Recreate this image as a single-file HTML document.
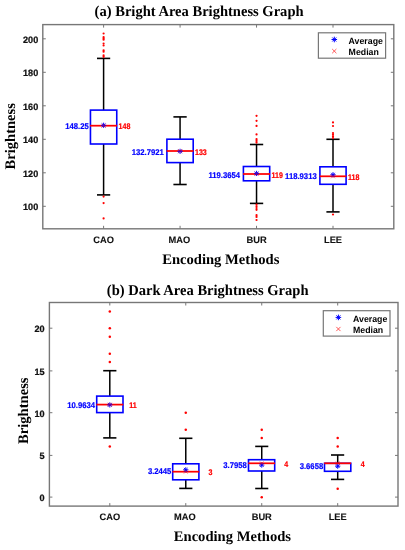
<!DOCTYPE html>
<html><head><meta charset="utf-8"><title>Brightness Graphs</title>
<style>html,body{margin:0;padding:0;background:#fff;overflow:hidden;}svg{display:block;}</style></head><body>
<svg width="405" height="550" viewBox="0 0 405 550" text-rendering="geometricPrecision">
<rect width="405" height="550" fill="#fff"/>
<text transform="translate(94.6,15.9) scale(0.99,1.02)" font-family='"Liberation Serif", "Times New Roman", serif' font-size="14.7" font-weight="bold" fill="#000" text-anchor="start">(a) Bright Area Brightness Graph</text>
<line x1="103.6" y1="58.4" x2="103.6" y2="110.1" stroke="#000" stroke-width="1.5"/>
<line x1="103.6" y1="144" x2="103.6" y2="194.9" stroke="#000" stroke-width="1.5"/>
<line x1="97" y1="58.4" x2="110.2" y2="58.4" stroke="#000" stroke-width="1.6"/>
<line x1="97" y1="194.9" x2="110.2" y2="194.9" stroke="#000" stroke-width="1.6"/>
<circle cx="103.6" cy="33.5" r="1.1" fill="#ff0000"/>
<circle cx="103.6" cy="37.2" r="1.1" fill="#ff0000"/>
<circle cx="103.6" cy="38.5" r="1.1" fill="#ff0000"/>
<circle cx="103.6" cy="39.7" r="1.1" fill="#ff0000"/>
<circle cx="103.6" cy="43.6" r="1.1" fill="#ff0000"/>
<circle cx="103.6" cy="45.5" r="1.1" fill="#ff0000"/>
<circle cx="103.6" cy="50.3" r="1.1" fill="#ff0000"/>
<circle cx="103.6" cy="51.7" r="1.1" fill="#ff0000"/>
<circle cx="103.6" cy="55.4" r="1.1" fill="#ff0000"/>
<circle cx="103.6" cy="56.8" r="1.1" fill="#ff0000"/>
<circle cx="103.6" cy="196.6" r="1.1" fill="#ff0000"/>
<circle cx="103.6" cy="203.1" r="1.1" fill="#ff0000"/>
<circle cx="103.6" cy="218.4" r="1.1" fill="#ff0000"/>
<rect x="90.45" y="110.1" width="26.3" height="33.9" fill="none" stroke="#0000ff" stroke-width="1.6"/>
<line x1="90.15" y1="125.7" x2="117.05" y2="125.7" stroke="#ff0000" stroke-width="1.75"/>
<line x1="101" y1="125.3" x2="106.2" y2="125.3" stroke="#0000ff" stroke-width="0.95"/>
<line x1="103.6" y1="122.7" x2="103.6" y2="127.9" stroke="#0000ff" stroke-width="0.95"/>
<line x1="101.76" y1="123.46" x2="105.44" y2="127.14" stroke="#0000ff" stroke-width="0.95"/>
<line x1="101.76" y1="127.14" x2="105.44" y2="123.46" stroke="#0000ff" stroke-width="0.95"/>
<line x1="101.6" y1="123.7" x2="105.6" y2="127.7" stroke="#ff0000" stroke-width="0.8" stroke-opacity="0.55"/>
<line x1="101.6" y1="127.7" x2="105.6" y2="123.7" stroke="#ff0000" stroke-width="0.8" stroke-opacity="0.55"/>
<text transform="translate(88.7,129.4) scale(1.0,1.08)" font-family='"Liberation Sans", Arial, sans-serif' font-size="7.7" font-weight="bold" fill="#0000ff" text-anchor="end" stroke="#0000ff" stroke-width="0.2">148.25</text>
<text transform="translate(118.6,129.4) scale(0.97,1.12)" font-family='"Liberation Sans", Arial, sans-serif' font-size="7.3" font-weight="bold" fill="#ff0000" text-anchor="start" stroke="#ff0000" stroke-width="0.2">148</text>
<line x1="180.07" y1="116.9" x2="180.07" y2="139.2" stroke="#000" stroke-width="1.5"/>
<line x1="180.07" y1="162.6" x2="180.07" y2="184.5" stroke="#000" stroke-width="1.5"/>
<line x1="173.4" y1="116.9" x2="186.7" y2="116.9" stroke="#000" stroke-width="1.6"/>
<line x1="173.4" y1="184.5" x2="186.7" y2="184.5" stroke="#000" stroke-width="1.6"/>
<rect x="166.9" y="139.2" width="26.3" height="23.4" fill="none" stroke="#0000ff" stroke-width="1.6"/>
<line x1="166.6" y1="151" x2="193.5" y2="151" stroke="#ff0000" stroke-width="1.75"/>
<line x1="177.47" y1="151.35" x2="182.67" y2="151.35" stroke="#0000ff" stroke-width="0.95"/>
<line x1="180.07" y1="148.75" x2="180.07" y2="153.95" stroke="#0000ff" stroke-width="0.95"/>
<line x1="178.23" y1="149.51" x2="181.91" y2="153.19" stroke="#0000ff" stroke-width="0.95"/>
<line x1="178.23" y1="153.19" x2="181.91" y2="149.51" stroke="#0000ff" stroke-width="0.95"/>
<line x1="178.07" y1="149" x2="182.07" y2="153" stroke="#ff0000" stroke-width="0.8" stroke-opacity="0.55"/>
<line x1="178.07" y1="153" x2="182.07" y2="149" stroke="#ff0000" stroke-width="0.8" stroke-opacity="0.55"/>
<text transform="translate(163.8,154.9) scale(1.0,1.08)" font-family='"Liberation Sans", Arial, sans-serif' font-size="7.7" font-weight="bold" fill="#0000ff" text-anchor="end" stroke="#0000ff" stroke-width="0.2">132.7921</text>
<text transform="translate(195,154.9) scale(0.97,1.12)" font-family='"Liberation Sans", Arial, sans-serif' font-size="7.3" font-weight="bold" fill="#ff0000" text-anchor="start" stroke="#ff0000" stroke-width="0.2">133</text>
<line x1="256.54" y1="144.5" x2="256.54" y2="166.5" stroke="#000" stroke-width="1.5"/>
<line x1="256.54" y1="180.8" x2="256.54" y2="203.4" stroke="#000" stroke-width="1.5"/>
<line x1="249.9" y1="144.5" x2="263.2" y2="144.5" stroke="#000" stroke-width="1.6"/>
<line x1="249.9" y1="203.4" x2="263.2" y2="203.4" stroke="#000" stroke-width="1.6"/>
<circle cx="256.54" cy="115.8" r="1.1" fill="#ff0000"/>
<circle cx="256.54" cy="120.8" r="1.1" fill="#ff0000"/>
<circle cx="256.54" cy="125.9" r="1.1" fill="#ff0000"/>
<circle cx="256.54" cy="134.4" r="1.1" fill="#ff0000"/>
<circle cx="256.54" cy="139.2" r="1.1" fill="#ff0000"/>
<circle cx="256.54" cy="140.9" r="1.1" fill="#ff0000"/>
<circle cx="256.54" cy="142.6" r="1.1" fill="#ff0000"/>
<circle cx="256.54" cy="204.6" r="1.1" fill="#ff0000"/>
<circle cx="256.54" cy="206.3" r="1.1" fill="#ff0000"/>
<circle cx="256.54" cy="208" r="1.1" fill="#ff0000"/>
<circle cx="256.54" cy="209.8" r="1.1" fill="#ff0000"/>
<circle cx="256.54" cy="215.2" r="1.1" fill="#ff0000"/>
<circle cx="256.54" cy="216.9" r="1.1" fill="#ff0000"/>
<circle cx="256.54" cy="220" r="1.1" fill="#ff0000"/>
<rect x="243.4" y="166.5" width="26.3" height="14.3" fill="none" stroke="#0000ff" stroke-width="1.6"/>
<line x1="243.1" y1="174" x2="270" y2="174" stroke="#ff0000" stroke-width="1.75"/>
<line x1="253.94" y1="173.4" x2="259.14" y2="173.4" stroke="#0000ff" stroke-width="0.95"/>
<line x1="256.54" y1="170.8" x2="256.54" y2="176" stroke="#0000ff" stroke-width="0.95"/>
<line x1="254.7" y1="171.56" x2="258.38" y2="175.24" stroke="#0000ff" stroke-width="0.95"/>
<line x1="254.7" y1="175.24" x2="258.38" y2="171.56" stroke="#0000ff" stroke-width="0.95"/>
<line x1="254.54" y1="172" x2="258.54" y2="176" stroke="#ff0000" stroke-width="0.8" stroke-opacity="0.55"/>
<line x1="254.54" y1="176" x2="258.54" y2="172" stroke="#ff0000" stroke-width="0.8" stroke-opacity="0.55"/>
<text transform="translate(240.1,177.6) scale(1.0,1.08)" font-family='"Liberation Sans", Arial, sans-serif' font-size="7.7" font-weight="bold" fill="#0000ff" text-anchor="end" stroke="#0000ff" stroke-width="0.2">119.3654</text>
<text transform="translate(271.4,177.6) scale(0.97,1.12)" font-family='"Liberation Sans", Arial, sans-serif' font-size="7.3" font-weight="bold" fill="#ff0000" text-anchor="start" stroke="#ff0000" stroke-width="0.2">119</text>
<line x1="333" y1="139.3" x2="333" y2="166.8" stroke="#000" stroke-width="1.5"/>
<line x1="333" y1="184.3" x2="333" y2="211.9" stroke="#000" stroke-width="1.5"/>
<line x1="326.4" y1="139.3" x2="339.6" y2="139.3" stroke="#000" stroke-width="1.6"/>
<line x1="326.4" y1="211.9" x2="339.6" y2="211.9" stroke="#000" stroke-width="1.6"/>
<circle cx="333" cy="122.4" r="1.1" fill="#ff0000"/>
<circle cx="333" cy="126" r="1.1" fill="#ff0000"/>
<circle cx="333" cy="133" r="1.1" fill="#ff0000"/>
<circle cx="333" cy="134.7" r="1.1" fill="#ff0000"/>
<circle cx="333" cy="136.4" r="1.1" fill="#ff0000"/>
<circle cx="333" cy="138" r="1.1" fill="#ff0000"/>
<circle cx="333" cy="214.5" r="1.1" fill="#ff0000"/>
<rect x="319.9" y="166.8" width="26.2" height="17.5" fill="none" stroke="#0000ff" stroke-width="1.6"/>
<line x1="319.6" y1="176.3" x2="346.4" y2="176.3" stroke="#ff0000" stroke-width="1.75"/>
<line x1="330.4" y1="174.7" x2="335.6" y2="174.7" stroke="#0000ff" stroke-width="0.95"/>
<line x1="333" y1="172.1" x2="333" y2="177.3" stroke="#0000ff" stroke-width="0.95"/>
<line x1="331.16" y1="172.86" x2="334.84" y2="176.54" stroke="#0000ff" stroke-width="0.95"/>
<line x1="331.16" y1="176.54" x2="334.84" y2="172.86" stroke="#0000ff" stroke-width="0.95"/>
<line x1="331" y1="174.3" x2="335" y2="178.3" stroke="#ff0000" stroke-width="0.8" stroke-opacity="0.55"/>
<line x1="331" y1="178.3" x2="335" y2="174.3" stroke="#ff0000" stroke-width="0.8" stroke-opacity="0.55"/>
<text transform="translate(316.7,178.6) scale(1.0,1.08)" font-family='"Liberation Sans", Arial, sans-serif' font-size="7.7" font-weight="bold" fill="#0000ff" text-anchor="end" stroke="#0000ff" stroke-width="0.2">118.9313</text>
<text transform="translate(347.9,179.6) scale(0.97,1.12)" font-family='"Liberation Sans", Arial, sans-serif' font-size="7.3" font-weight="bold" fill="#ff0000" text-anchor="start" stroke="#ff0000" stroke-width="0.2">118</text>
<rect x="42.8" y="24.6" width="351" height="204.2" fill="none" stroke="#777777" stroke-width="1.4"/>
<line x1="42.8" y1="38.8" x2="45.8" y2="38.8" stroke="#777777" stroke-width="1"/>
<line x1="393.8" y1="38.8" x2="390.8" y2="38.8" stroke="#777777" stroke-width="1"/>
<text transform="translate(38.2,42.6) scale(0.97,0.98)" font-family='"Liberation Sans", Arial, sans-serif' font-size="9.4" font-weight="bold" fill="#111" text-anchor="end" stroke="#111" stroke-width="0.25">200</text>
<line x1="42.8" y1="72.3" x2="45.8" y2="72.3" stroke="#777777" stroke-width="1"/>
<line x1="393.8" y1="72.3" x2="390.8" y2="72.3" stroke="#777777" stroke-width="1"/>
<text transform="translate(38.2,76.1) scale(0.97,0.98)" font-family='"Liberation Sans", Arial, sans-serif' font-size="9.4" font-weight="bold" fill="#111" text-anchor="end" stroke="#111" stroke-width="0.25">180</text>
<line x1="42.8" y1="105.8" x2="45.8" y2="105.8" stroke="#777777" stroke-width="1"/>
<line x1="393.8" y1="105.8" x2="390.8" y2="105.8" stroke="#777777" stroke-width="1"/>
<text transform="translate(38.2,109.6) scale(0.97,0.98)" font-family='"Liberation Sans", Arial, sans-serif' font-size="9.4" font-weight="bold" fill="#111" text-anchor="end" stroke="#111" stroke-width="0.25">160</text>
<line x1="42.8" y1="139.3" x2="45.8" y2="139.3" stroke="#777777" stroke-width="1"/>
<line x1="393.8" y1="139.3" x2="390.8" y2="139.3" stroke="#777777" stroke-width="1"/>
<text transform="translate(38.2,143.1) scale(0.97,0.98)" font-family='"Liberation Sans", Arial, sans-serif' font-size="9.4" font-weight="bold" fill="#111" text-anchor="end" stroke="#111" stroke-width="0.25">140</text>
<line x1="42.8" y1="172.8" x2="45.8" y2="172.8" stroke="#777777" stroke-width="1"/>
<line x1="393.8" y1="172.8" x2="390.8" y2="172.8" stroke="#777777" stroke-width="1"/>
<text transform="translate(38.2,176.6) scale(0.97,0.98)" font-family='"Liberation Sans", Arial, sans-serif' font-size="9.4" font-weight="bold" fill="#111" text-anchor="end" stroke="#111" stroke-width="0.25">120</text>
<line x1="42.8" y1="206.3" x2="45.8" y2="206.3" stroke="#777777" stroke-width="1"/>
<line x1="393.8" y1="206.3" x2="390.8" y2="206.3" stroke="#777777" stroke-width="1"/>
<text transform="translate(38.2,210.1) scale(0.97,0.98)" font-family='"Liberation Sans", Arial, sans-serif' font-size="9.4" font-weight="bold" fill="#111" text-anchor="end" stroke="#111" stroke-width="0.25">100</text>
<line x1="103.6" y1="228.8" x2="103.6" y2="225.8" stroke="#777777" stroke-width="1"/>
<line x1="103.6" y1="24.6" x2="103.6" y2="27.6" stroke="#777777" stroke-width="1"/>
<text transform="translate(103.6,243.4) scale(0.99,1.0)" font-family='"Liberation Sans", Arial, sans-serif' font-size="9.4" font-weight="bold" fill="#111" text-anchor="middle" stroke="#111" stroke-width="0.1">CAO</text>
<line x1="180.07" y1="228.8" x2="180.07" y2="225.8" stroke="#777777" stroke-width="1"/>
<line x1="180.07" y1="24.6" x2="180.07" y2="27.6" stroke="#777777" stroke-width="1"/>
<text transform="translate(179.27,243.4) scale(0.99,1.0)" font-family='"Liberation Sans", Arial, sans-serif' font-size="9.4" font-weight="bold" fill="#111" text-anchor="middle" stroke="#111" stroke-width="0.1">MAO</text>
<line x1="256.54" y1="228.8" x2="256.54" y2="225.8" stroke="#777777" stroke-width="1"/>
<line x1="256.54" y1="24.6" x2="256.54" y2="27.6" stroke="#777777" stroke-width="1"/>
<text transform="translate(256.54,243.4) scale(0.99,1.0)" font-family='"Liberation Sans", Arial, sans-serif' font-size="9.4" font-weight="bold" fill="#111" text-anchor="middle" stroke="#111" stroke-width="0.1">BUR</text>
<line x1="333" y1="228.8" x2="333" y2="225.8" stroke="#777777" stroke-width="1"/>
<line x1="333" y1="24.6" x2="333" y2="27.6" stroke="#777777" stroke-width="1"/>
<text transform="translate(333,243.4) scale(0.99,1.0)" font-family='"Liberation Sans", Arial, sans-serif' font-size="9.4" font-weight="bold" fill="#111" text-anchor="middle" stroke="#111" stroke-width="0.1">LEE</text>
<text x="162.2" y="264.3" font-family='"Liberation Serif", "Times New Roman", serif' font-size="14.6" font-weight="bold" fill="#000" text-anchor="start">Encoding Methods</text>
<text transform="translate(14.7,136.3) rotate(-90) scale(1.0,1.0)" font-family='"Liberation Serif", "Times New Roman", serif' font-size="14.6" font-weight="bold" fill="#000" text-anchor="middle">Brightness</text>
<rect x="318.4" y="32.8" width="67.2" height="25.4" fill="#fff" stroke="#777777" stroke-width="1.2"/>
<line x1="331.5" y1="39.5" x2="337.1" y2="39.5" stroke="#0000ff" stroke-width="1.0"/>
<line x1="334.3" y1="36.7" x2="334.3" y2="42.3" stroke="#0000ff" stroke-width="1.0"/>
<line x1="332.32" y1="37.52" x2="336.28" y2="41.48" stroke="#0000ff" stroke-width="1.0"/>
<line x1="332.32" y1="41.48" x2="336.28" y2="37.52" stroke="#0000ff" stroke-width="1.0"/>
<line x1="332.2" y1="49" x2="336.4" y2="53.2" stroke="#ff3030" stroke-width="0.8"/>
<line x1="332.2" y1="53.2" x2="336.4" y2="49" stroke="#ff3030" stroke-width="0.8"/>
<text transform="translate(348.6,44.2) scale(1.02,1.05)" font-family='"Liberation Sans", Arial, sans-serif' font-size="8.6" font-weight="bold" fill="#000" text-anchor="start">Average</text>
<text transform="translate(348.6,54.9) scale(1.02,1.05)" font-family='"Liberation Sans", Arial, sans-serif' font-size="8.6" font-weight="bold" fill="#000" text-anchor="start">Median</text>
<text transform="translate(106.8,295.4) scale(0.99,1.02)" font-family='"Liberation Serif", "Times New Roman", serif' font-size="14.7" font-weight="bold" fill="#000" text-anchor="start">(b) Dark Area Brightness Graph</text>
<line x1="109.8" y1="370.7" x2="109.8" y2="396.1" stroke="#000" stroke-width="1.5"/>
<line x1="109.8" y1="412.6" x2="109.8" y2="437.9" stroke="#000" stroke-width="1.5"/>
<line x1="103.2" y1="370.7" x2="116.4" y2="370.7" stroke="#000" stroke-width="1.6"/>
<line x1="103.2" y1="437.9" x2="116.4" y2="437.9" stroke="#000" stroke-width="1.6"/>
<circle cx="109.8" cy="311.41" r="1.25" fill="#ff0000"/>
<circle cx="109.8" cy="328.3" r="1.25" fill="#ff0000"/>
<circle cx="109.8" cy="336.75" r="1.25" fill="#ff0000"/>
<circle cx="109.8" cy="353.63" r="1.25" fill="#ff0000"/>
<circle cx="109.8" cy="362.08" r="1.25" fill="#ff0000"/>
<circle cx="109.8" cy="446.53" r="1.25" fill="#ff0000"/>
<rect x="96.7" y="396.1" width="26.3" height="16.5" fill="none" stroke="#0000ff" stroke-width="1.6"/>
<line x1="96.4" y1="404.6" x2="123.3" y2="404.6" stroke="#ff0000" stroke-width="1.75"/>
<line x1="107.2" y1="404.9" x2="112.4" y2="404.9" stroke="#0000ff" stroke-width="0.95"/>
<line x1="109.8" y1="402.3" x2="109.8" y2="407.5" stroke="#0000ff" stroke-width="0.95"/>
<line x1="107.96" y1="403.06" x2="111.64" y2="406.74" stroke="#0000ff" stroke-width="0.95"/>
<line x1="107.96" y1="406.74" x2="111.64" y2="403.06" stroke="#0000ff" stroke-width="0.95"/>
<line x1="107.8" y1="402.6" x2="111.8" y2="406.6" stroke="#ff0000" stroke-width="0.8" stroke-opacity="0.55"/>
<line x1="107.8" y1="406.6" x2="111.8" y2="402.6" stroke="#ff0000" stroke-width="0.8" stroke-opacity="0.55"/>
<text transform="translate(95.1,408.2) scale(1.0,1.08)" font-family='"Liberation Sans", Arial, sans-serif' font-size="7.7" font-weight="bold" fill="#0000ff" text-anchor="end" stroke="#0000ff" stroke-width="0.2">10.9634</text>
<text transform="translate(129.3,408.2) scale(0.97,1.12)" font-family='"Liberation Sans", Arial, sans-serif' font-size="7.3" font-weight="bold" fill="#ff0000" text-anchor="start" stroke="#ff0000" stroke-width="0.2">11</text>
<line x1="185.77" y1="438.3" x2="185.77" y2="463.8" stroke="#000" stroke-width="1.5"/>
<line x1="185.77" y1="479.8" x2="185.77" y2="488.4" stroke="#000" stroke-width="1.5"/>
<line x1="179.2" y1="438.3" x2="192.4" y2="438.3" stroke="#000" stroke-width="1.6"/>
<line x1="179.2" y1="488.4" x2="192.4" y2="488.4" stroke="#000" stroke-width="1.6"/>
<circle cx="185.77" cy="412.75" r="1.25" fill="#ff0000"/>
<circle cx="185.77" cy="429.64" r="1.25" fill="#ff0000"/>
<rect x="172.7" y="463.8" width="26.2" height="16" fill="none" stroke="#0000ff" stroke-width="1.6"/>
<line x1="172.4" y1="471.7" x2="199.2" y2="471.7" stroke="#ff0000" stroke-width="1.75"/>
<line x1="183.17" y1="469.8" x2="188.37" y2="469.8" stroke="#0000ff" stroke-width="0.95"/>
<line x1="185.77" y1="467.2" x2="185.77" y2="472.4" stroke="#0000ff" stroke-width="0.95"/>
<line x1="183.93" y1="467.96" x2="187.61" y2="471.64" stroke="#0000ff" stroke-width="0.95"/>
<line x1="183.93" y1="471.64" x2="187.61" y2="467.96" stroke="#0000ff" stroke-width="0.95"/>
<line x1="183.77" y1="469.7" x2="187.77" y2="473.7" stroke="#ff0000" stroke-width="0.8" stroke-opacity="0.55"/>
<line x1="183.77" y1="473.7" x2="187.77" y2="469.7" stroke="#ff0000" stroke-width="0.8" stroke-opacity="0.55"/>
<text transform="translate(171.4,474) scale(1.0,1.08)" font-family='"Liberation Sans", Arial, sans-serif' font-size="7.7" font-weight="bold" fill="#0000ff" text-anchor="end" stroke="#0000ff" stroke-width="0.2">3.2445</text>
<text transform="translate(208.6,475) scale(0.97,1.12)" font-family='"Liberation Sans", Arial, sans-serif' font-size="7.3" font-weight="bold" fill="#ff0000" text-anchor="start" stroke="#ff0000" stroke-width="0.2">3</text>
<line x1="261.74" y1="446.4" x2="261.74" y2="459.7" stroke="#000" stroke-width="1.5"/>
<line x1="261.74" y1="471" x2="261.74" y2="488.5" stroke="#000" stroke-width="1.5"/>
<line x1="255.2" y1="446.4" x2="268.3" y2="446.4" stroke="#000" stroke-width="1.6"/>
<line x1="255.2" y1="488.5" x2="268.3" y2="488.5" stroke="#000" stroke-width="1.6"/>
<circle cx="261.74" cy="429.64" r="1.25" fill="#ff0000"/>
<circle cx="261.74" cy="438.08" r="1.25" fill="#ff0000"/>
<circle cx="261.74" cy="497.2" r="1.25" fill="#ff0000"/>
<rect x="248.5" y="459.7" width="26.2" height="11.3" fill="none" stroke="#0000ff" stroke-width="1.6"/>
<line x1="248.2" y1="463.3" x2="275" y2="463.3" stroke="#ff0000" stroke-width="1.75"/>
<line x1="259.14" y1="465.1" x2="264.34" y2="465.1" stroke="#0000ff" stroke-width="0.95"/>
<line x1="261.74" y1="462.5" x2="261.74" y2="467.7" stroke="#0000ff" stroke-width="0.95"/>
<line x1="259.9" y1="463.26" x2="263.58" y2="466.94" stroke="#0000ff" stroke-width="0.95"/>
<line x1="259.9" y1="466.94" x2="263.58" y2="463.26" stroke="#0000ff" stroke-width="0.95"/>
<line x1="259.74" y1="461.3" x2="263.74" y2="465.3" stroke="#ff0000" stroke-width="0.8" stroke-opacity="0.55"/>
<line x1="259.74" y1="465.3" x2="263.74" y2="461.3" stroke="#ff0000" stroke-width="0.8" stroke-opacity="0.55"/>
<text transform="translate(246.8,468) scale(1.0,1.08)" font-family='"Liberation Sans", Arial, sans-serif' font-size="7.7" font-weight="bold" fill="#0000ff" text-anchor="end" stroke="#0000ff" stroke-width="0.2">3.7958</text>
<text transform="translate(284.2,466.6) scale(0.97,1.12)" font-family='"Liberation Sans", Arial, sans-serif' font-size="7.3" font-weight="bold" fill="#ff0000" text-anchor="start" stroke="#ff0000" stroke-width="0.2">4</text>
<line x1="337.7" y1="455" x2="337.7" y2="463.3" stroke="#000" stroke-width="1.5"/>
<line x1="337.7" y1="471.3" x2="337.7" y2="479.4" stroke="#000" stroke-width="1.5"/>
<line x1="331" y1="455" x2="344.2" y2="455" stroke="#000" stroke-width="1.6"/>
<line x1="331" y1="479.4" x2="344.2" y2="479.4" stroke="#000" stroke-width="1.6"/>
<circle cx="337.7" cy="438.08" r="1.25" fill="#ff0000"/>
<circle cx="337.7" cy="446.53" r="1.25" fill="#ff0000"/>
<circle cx="337.7" cy="488.75" r="1.25" fill="#ff0000"/>
<rect x="324.5" y="463.3" width="26.3" height="8" fill="none" stroke="#0000ff" stroke-width="1.6"/>
<line x1="324.2" y1="463.3" x2="351.1" y2="463.3" stroke="#ff0000" stroke-width="1.75"/>
<line x1="335.1" y1="466.2" x2="340.3" y2="466.2" stroke="#0000ff" stroke-width="0.95"/>
<line x1="337.7" y1="463.6" x2="337.7" y2="468.8" stroke="#0000ff" stroke-width="0.95"/>
<line x1="335.86" y1="464.36" x2="339.54" y2="468.04" stroke="#0000ff" stroke-width="0.95"/>
<line x1="335.86" y1="468.04" x2="339.54" y2="464.36" stroke="#0000ff" stroke-width="0.95"/>
<line x1="335.7" y1="461.3" x2="339.7" y2="465.3" stroke="#ff0000" stroke-width="0.8" stroke-opacity="0.55"/>
<line x1="335.7" y1="465.3" x2="339.7" y2="461.3" stroke="#ff0000" stroke-width="0.8" stroke-opacity="0.55"/>
<text transform="translate(323.2,469) scale(1.0,1.08)" font-family='"Liberation Sans", Arial, sans-serif' font-size="7.7" font-weight="bold" fill="#0000ff" text-anchor="end" stroke="#0000ff" stroke-width="0.2">3.6658</text>
<text transform="translate(360.7,466.6) scale(0.97,1.12)" font-family='"Liberation Sans", Arial, sans-serif' font-size="7.3" font-weight="bold" fill="#ff0000" text-anchor="start" stroke="#ff0000" stroke-width="0.2">4</text>
<rect x="49.4" y="302.5" width="348.6" height="203.6" fill="none" stroke="#777777" stroke-width="1.4"/>
<line x1="49.4" y1="328.2" x2="52.4" y2="328.2" stroke="#777777" stroke-width="1"/>
<line x1="398" y1="328.2" x2="395" y2="328.2" stroke="#777777" stroke-width="1"/>
<text transform="translate(44.5,332) scale(0.97,0.98)" font-family='"Liberation Sans", Arial, sans-serif' font-size="9.4" font-weight="bold" fill="#111" text-anchor="end" stroke="#111" stroke-width="0.25">20</text>
<line x1="49.4" y1="370.9" x2="52.4" y2="370.9" stroke="#777777" stroke-width="1"/>
<line x1="398" y1="370.9" x2="395" y2="370.9" stroke="#777777" stroke-width="1"/>
<text transform="translate(44.5,374.7) scale(0.97,0.98)" font-family='"Liberation Sans", Arial, sans-serif' font-size="9.4" font-weight="bold" fill="#111" text-anchor="end" stroke="#111" stroke-width="0.25">15</text>
<line x1="49.4" y1="412.7" x2="52.4" y2="412.7" stroke="#777777" stroke-width="1"/>
<line x1="398" y1="412.7" x2="395" y2="412.7" stroke="#777777" stroke-width="1"/>
<text transform="translate(44.5,416.5) scale(0.97,0.98)" font-family='"Liberation Sans", Arial, sans-serif' font-size="9.4" font-weight="bold" fill="#111" text-anchor="end" stroke="#111" stroke-width="0.25">10</text>
<line x1="49.4" y1="455.4" x2="52.4" y2="455.4" stroke="#777777" stroke-width="1"/>
<line x1="398" y1="455.4" x2="395" y2="455.4" stroke="#777777" stroke-width="1"/>
<text transform="translate(44.5,459.2) scale(0.97,0.98)" font-family='"Liberation Sans", Arial, sans-serif' font-size="9.4" font-weight="bold" fill="#111" text-anchor="end" stroke="#111" stroke-width="0.25">5</text>
<line x1="49.4" y1="497.1" x2="52.4" y2="497.1" stroke="#777777" stroke-width="1"/>
<line x1="398" y1="497.1" x2="395" y2="497.1" stroke="#777777" stroke-width="1"/>
<text transform="translate(44.5,500.9) scale(0.97,0.98)" font-family='"Liberation Sans", Arial, sans-serif' font-size="9.4" font-weight="bold" fill="#111" text-anchor="end" stroke="#111" stroke-width="0.25">0</text>
<line x1="109.8" y1="506.1" x2="109.8" y2="503.1" stroke="#777777" stroke-width="1"/>
<line x1="109.8" y1="302.5" x2="109.8" y2="305.5" stroke="#777777" stroke-width="1"/>
<text transform="translate(109.8,520.2) scale(0.99,1.0)" font-family='"Liberation Sans", Arial, sans-serif' font-size="9.4" font-weight="bold" fill="#111" text-anchor="middle" stroke="#111" stroke-width="0.1">CAO</text>
<line x1="185.77" y1="506.1" x2="185.77" y2="503.1" stroke="#777777" stroke-width="1"/>
<line x1="185.77" y1="302.5" x2="185.77" y2="305.5" stroke="#777777" stroke-width="1"/>
<text transform="translate(184.77,520.2) scale(0.99,1.0)" font-family='"Liberation Sans", Arial, sans-serif' font-size="9.4" font-weight="bold" fill="#111" text-anchor="middle" stroke="#111" stroke-width="0.1">MAO</text>
<line x1="261.74" y1="506.1" x2="261.74" y2="503.1" stroke="#777777" stroke-width="1"/>
<line x1="261.74" y1="302.5" x2="261.74" y2="305.5" stroke="#777777" stroke-width="1"/>
<text transform="translate(261.74,520.2) scale(0.99,1.0)" font-family='"Liberation Sans", Arial, sans-serif' font-size="9.4" font-weight="bold" fill="#111" text-anchor="middle" stroke="#111" stroke-width="0.1">BUR</text>
<line x1="337.7" y1="506.1" x2="337.7" y2="503.1" stroke="#777777" stroke-width="1"/>
<line x1="337.7" y1="302.5" x2="337.7" y2="305.5" stroke="#777777" stroke-width="1"/>
<text transform="translate(337.7,520.2) scale(0.99,1.0)" font-family='"Liberation Sans", Arial, sans-serif' font-size="9.4" font-weight="bold" fill="#111" text-anchor="middle" stroke="#111" stroke-width="0.1">LEE</text>
<text x="173.8" y="541.4" font-family='"Liberation Serif", "Times New Roman", serif' font-size="14.6" font-weight="bold" fill="#000" text-anchor="start">Encoding Methods</text>
<text transform="translate(27.9,410.7) rotate(-90) scale(1.0,1.0)" font-family='"Liberation Serif", "Times New Roman", serif' font-size="14.6" font-weight="bold" fill="#000" text-anchor="middle">Brightness</text>
<rect x="323.3" y="310.7" width="66.7" height="25.4" fill="#fff" stroke="#777777" stroke-width="1.2"/>
<line x1="335.6" y1="317.4" x2="341.2" y2="317.4" stroke="#0000ff" stroke-width="1.0"/>
<line x1="338.4" y1="314.6" x2="338.4" y2="320.2" stroke="#0000ff" stroke-width="1.0"/>
<line x1="336.42" y1="315.42" x2="340.38" y2="319.38" stroke="#0000ff" stroke-width="1.0"/>
<line x1="336.42" y1="319.38" x2="340.38" y2="315.42" stroke="#0000ff" stroke-width="1.0"/>
<line x1="336.3" y1="326.9" x2="340.5" y2="331.1" stroke="#ff3030" stroke-width="0.8"/>
<line x1="336.3" y1="331.1" x2="340.5" y2="326.9" stroke="#ff3030" stroke-width="0.8"/>
<text transform="translate(353,322.1) scale(1.02,1.05)" font-family='"Liberation Sans", Arial, sans-serif' font-size="8.6" font-weight="bold" fill="#000" text-anchor="start">Average</text>
<text transform="translate(353,332.8) scale(1.02,1.05)" font-family='"Liberation Sans", Arial, sans-serif' font-size="8.6" font-weight="bold" fill="#000" text-anchor="start">Median</text>
</svg></body></html>
